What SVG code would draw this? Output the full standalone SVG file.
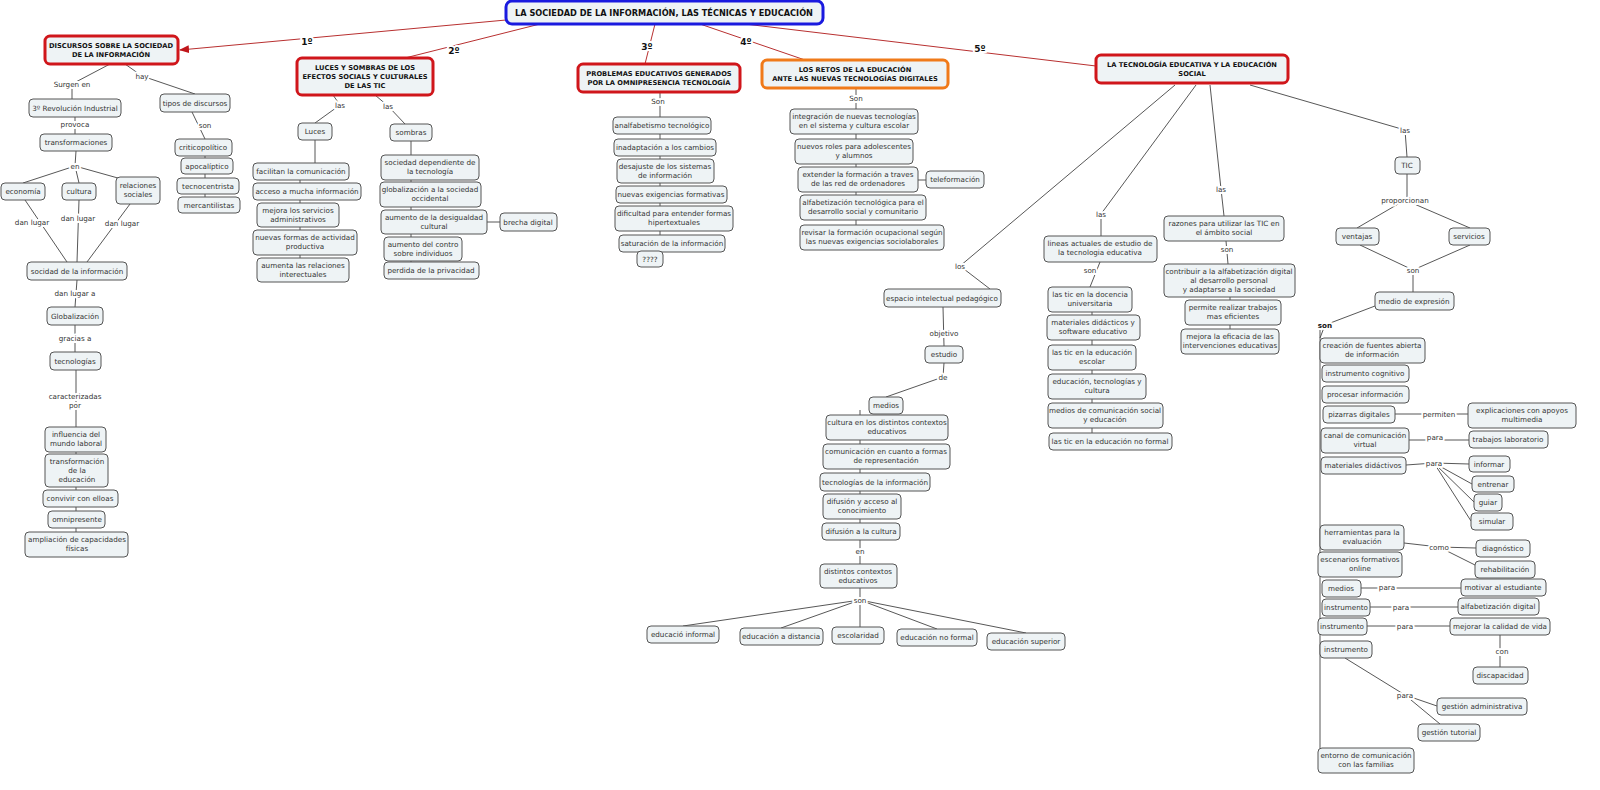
<svg xmlns="http://www.w3.org/2000/svg" width="1600" height="790" viewBox="0 0 1600 790">
<style>
.n rect{fill:#eef3f5;stroke:#555;stroke-width:1}
.n text,.l{font-family:"DejaVu Sans",sans-serif;font-size:7.2px;fill:#333;text-anchor:middle}
.m rect{fill:#eef3f5;stroke:#d0161b;stroke-width:3}
.m text{font-family:"DejaVu Sans",sans-serif;font-size:6.7px;font-weight:bold;fill:#111;text-anchor:middle}
.l{paint-order:stroke;stroke:#fff;stroke-width:4px;stroke-linejoin:round}
.o{font-family:"DejaVu Sans",sans-serif;font-size:9px;font-weight:bold;fill:#111;text-anchor:middle;paint-order:stroke;stroke:#fff;stroke-width:4px}
.c line,.c polyline{stroke:#444;stroke-width:0.9;fill:none}
.r line{stroke:#b83030;stroke-width:1}
</style>
<defs><marker id="ah" markerWidth="10" markerHeight="8" refX="9" refY="4" orient="auto" markerUnits="userSpaceOnUse"><path d="M0,0L10,4L0,8z" fill="#c0161b"/></marker></defs>
<rect width="1600" height="790" fill="#fff"/>
<g class="r">
<line x1="506" y1="20" x2="180" y2="50" marker-end="url(#ah)"/>
<line x1="540" y1="24" x2="405" y2="58"/>
<line x1="655" y1="24" x2="645" y2="64"/>
<line x1="700" y1="24" x2="805" y2="60"/>
<line x1="745" y1="24" x2="1096" y2="66"/>
</g>
<text class="o" x="307" y="45">1º</text><text class="o" x="454" y="54">2º</text><text class="o" x="647" y="50">3º</text><text class="o" x="746" y="45">4º</text><text class="o" x="980" y="52">5º</text>
<g class="c">
<polyline points="110,64 72,84 72,99"/><polyline points="125,64 142,76 195,94"/>
<line x1="75" y1="117" x2="75" y2="134"/><polyline points="76,151 75,166 23,183"/><line x1="75" y1="166" x2="79" y2="183"/><line x1="75" y1="166" x2="125" y2="180"/>
<line x1="25" y1="200" x2="67" y2="262"/><line x1="79" y1="200" x2="77" y2="262"/><line x1="130" y1="204" x2="87" y2="262"/>
<line x1="77" y1="280" x2="75" y2="307"/><line x1="75" y1="325" x2="75" y2="352"/><line x1="76" y1="370" x2="76" y2="532"/>
<line x1="192" y1="112" x2="205" y2="139"/><line x1="205" y1="150" x2="205" y2="200"/>
<polyline points="333,95 340,105 315,123"/><polyline points="375,95 388,106 405,124"/>
<line x1="315" y1="140" x2="315" y2="163"/><line x1="300" y1="170" x2="300" y2="262"/>
<line x1="411" y1="141" x2="411" y2="262"/><line x1="487" y1="222" x2="500" y2="222"/>
<line x1="660" y1="92" x2="660" y2="117"/><line x1="660" y1="130" x2="660" y2="255"/>
<line x1="856" y1="88" x2="856" y2="109"/><line x1="856" y1="120" x2="856" y2="230"/><line x1="918" y1="180" x2="926" y2="180"/>
<polyline points="1175,85 960,266 990,289"/><polyline points="1196,85 1101,214 1101,236"/><polyline points="1210,85 1221,189 1224,216"/><polyline points="1250,85 1405,130 1407,157"/>
<line x1="943" y1="307" x2="944" y2="346"/><polyline points="944,363 943,377 886,397"/>
<line x1="860" y1="410" x2="860" y2="564"/>
<line x1="860" y1="588" x2="860" y2="627"/><line x1="860" y1="600" x2="683" y2="626"/><line x1="860" y1="600" x2="781" y2="628"/><line x1="860" y1="600" x2="937" y2="629"/><line x1="860" y1="600" x2="1026" y2="633"/>
<line x1="1100" y1="262" x2="1090" y2="287"/><line x1="1092" y1="300" x2="1092" y2="440"/>
<line x1="1226" y1="241" x2="1228" y2="264"/><line x1="1230" y1="290" x2="1230" y2="340"/>
<line x1="1407" y1="174" x2="1407" y2="200"/><polyline points="1357,228 1405,200 1470,228"/><polyline points="1360,245 1413,270 1470,245"/><line x1="1413" y1="270" x2="1413" y2="292"/>
<polyline points="1375,306 1325,325 1320,338"/><line x1="1320" y1="330" x2="1320" y2="748"/>
<line x1="1395" y1="414" x2="1468" y2="414"/><line x1="1409" y1="440" x2="1469" y2="440"/>
<polyline points="1406,465 1434,463 1469,464"/><line x1="1434" y1="463" x2="1472" y2="484"/><line x1="1434" y1="463" x2="1474" y2="502"/><line x1="1434" y1="463" x2="1471" y2="521"/>
<polyline points="1404,543 1439,547 1476,548"/><line x1="1439" y1="547" x2="1475" y2="565"/>
<line x1="1361" y1="588" x2="1461" y2="588"/><line x1="1370" y1="607" x2="1458" y2="607"/><line x1="1367" y1="626" x2="1450" y2="626"/>
<line x1="1500" y1="635" x2="1500" y2="667"/>
<polyline points="1345,658 1405,695 1437,706"/><line x1="1405" y1="695" x2="1440" y2="724"/>
</g>
<g class="lbls">
<text class="l" x="72" y="87">Surgen en</text><text class="l" x="142" y="79">hay</text><text class="l" x="75" y="127">provoca</text><text class="l" x="75" y="169">en</text>
<text class="l" x="32" y="225">dan lugar</text><text class="l" x="78" y="221">dan lugar</text><text class="l" x="122" y="226">dan lugar</text>
<text class="l" x="75" y="296">dan lugar a</text><text class="l" x="75" y="341">gracias a</text><text class="l" x="75" y="399">caracterizadas</text><text class="l" x="75" y="408">por</text>
<text class="l" x="205" y="128">son</text><text class="l" x="340" y="108">las</text><text class="l" x="388" y="109">las</text>
<text class="l" x="658" y="104">Son</text><text class="l" x="856" y="101">Son</text>
<text class="l" x="960" y="269">los</text><text class="l" x="1101" y="217">las</text><text class="l" x="1221" y="192">las</text><text class="l" x="1405" y="133">las</text>
<text class="l" x="944" y="336">objetivo</text><text class="l" x="943" y="380">de</text><text class="l" x="860" y="554">en</text><text class="l" x="860" y="603">son</text>
<text class="l" x="1090" y="273">son</text><text class="l" x="1227" y="252">son</text><text class="l" x="1405" y="203">proporcionan</text><text class="l" x="1413" y="273">son</text>
<text class="l" x="1325" y="328" style="font-weight:bold;fill:#111">son</text>
<text class="l" x="1439" y="417">permiten</text><text class="l" x="1435" y="440">para</text><text class="l" x="1434" y="466">para</text><text class="l" x="1439" y="550">como</text>
<text class="l" x="1387" y="590">para</text><text class="l" x="1401" y="610">para</text><text class="l" x="1405" y="629">para</text><text class="l" x="1502" y="654">con</text><text class="l" x="1405" y="698">para</text>
</g>
<g id="root"><rect x="506" y="1" width="317" height="23" rx="6" fill="#eef3f5" stroke="#1a1adf" stroke-width="3"/><text x="664" y="16" font-family="DejaVu Sans,sans-serif" font-size="8.2" font-weight="bold" text-anchor="middle" fill="#111">LA SOCIEDAD DE LA INFORMACIÓN, LAS TÉCNICAS Y EDUCACIÓN</text></g>
<g id="m1" class="m"><rect x="45" y="36" width="133" height="28" rx="5"/><text x="111" y="48">DISCURSOS SOBRE LA SOCIEDAD<tspan x="111" dy="9">DE LA INFORMACIÓN</tspan></text></g>
<g id="m2" class="m"><rect x="297" y="58" width="136" height="37" rx="5"/><text x="365" y="70">LUCES Y SOMBRAS DE LOS<tspan x="365" dy="9">EFECTOS SOCIALS Y CULTURALES</tspan><tspan x="365" dy="9">DE LAS TIC</tspan></text></g>
<g id="m3" class="m"><rect x="578" y="64" width="162" height="28" rx="5"/><text x="659" y="76">PROBLEMAS EDUCATIVOS GENERADOS<tspan x="659" dy="9">POR LA OMNIPRESENCIA TECNOLOGÍA</tspan></text></g>
<g id="m4" class="m"><rect x="762" y="60" width="186" height="28" rx="5" style="stroke:#f07a1a"/><text x="855" y="72">LOS RETOS DE LA EDUCACIÓN<tspan x="855" dy="9">ANTE LAS NUEVAS TECNOLOGÍAS DIGITALES</tspan></text></g>
<g id="m5" class="m"><rect x="1096" y="55" width="192" height="28" rx="5"/><text x="1192" y="67">LA TECNOLOGÍA EDUCATIVA Y LA EDUCACIÓN<tspan x="1192" dy="9">SOCIAL</tspan></text></g>
<g class="n">
<g id="a1"><rect x="29" y="99" width="92" height="18" rx="4"/><text x="75" y="111">3º Revolución Industrial</text></g>
<g id="a2"><rect x="40" y="134" width="72" height="17" rx="4"/><text x="76" y="145">transformaciones</text></g>
<g id="a3"><rect x="1" y="183" width="44" height="17" rx="4"/><text x="23" y="194">economía</text></g>
<g id="a4"><rect x="62" y="183" width="34" height="17" rx="4"/><text x="79" y="194">cultura</text></g>
<g id="a5"><rect x="116" y="177" width="44" height="27" rx="4"/><text x="138" y="188">relaciones<tspan x="138" dy="9">sociales</tspan></text></g>
<g id="a6"><rect x="27" y="262" width="100" height="18" rx="4"/><text x="77" y="274">socidad de la información</text></g>
<g id="a7"><rect x="47" y="307" width="56" height="18" rx="4"/><text x="75" y="319">Globalización</text></g>
<g id="a8"><rect x="50" y="352" width="51" height="18" rx="4"/><text x="75" y="364">tecnologías</text></g>
<g id="a9"><rect x="45" y="427" width="61" height="25" rx="4"/><text x="76" y="437">influencia del<tspan x="76" dy="9">mundo laboral</tspan></text></g>
<g id="a10"><rect x="45" y="454" width="63" height="33" rx="4"/><text x="77" y="464">transformación<tspan x="77" dy="9">de la</tspan><tspan x="77" dy="9">educación</tspan></text></g>
<g id="a11"><rect x="43" y="490" width="75" height="17" rx="4"/><text x="80" y="501">convivir con elloas</text></g>
<g id="a12"><rect x="48" y="511" width="57" height="17" rx="4"/><text x="77" y="522">omnipresente</text></g>
<g id="a13"><rect x="25" y="532" width="103" height="25" rx="4"/><text x="77" y="542">ampliación de capacidades<tspan x="77" dy="9">físicas</tspan></text></g>
<g id="b1"><rect x="160" y="94" width="70" height="18" rx="4"/><text x="195" y="106">tipos de discursos</text></g>
<g id="b2"><rect x="175" y="139" width="57" height="17" rx="4"/><text x="203" y="150">criticopolítico</text></g>
<g id="b3"><rect x="181" y="158" width="52" height="16" rx="4"/><text x="207" y="169">apocalíptico</text></g>
<g id="b4"><rect x="177" y="178" width="62" height="16" rx="4"/><text x="208" y="189">tecnocentrista</text></g>
<g id="b5"><rect x="178" y="197" width="62" height="16" rx="4"/><text x="209" y="208">mercantilistas</text></g>
<g id="c1"><rect x="298" y="123" width="34" height="17" rx="4"/><text x="315" y="134">Luces</text></g>
<g id="c2"><rect x="390" y="124" width="42" height="17" rx="4"/><text x="411" y="135">sombras</text></g>
<g id="c3"><rect x="253" y="163" width="96" height="17" rx="4"/><text x="301" y="174">facilitan la comunicación</text></g>
<g id="c4"><rect x="253" y="183" width="108" height="17" rx="4"/><text x="307" y="194">acceso a mucha información</text></g>
<g id="c5"><rect x="257" y="203" width="82" height="24" rx="4"/><text x="298" y="213">mejora los servicios<tspan x="298" dy="9">administrativos</tspan></text></g>
<g id="c6"><rect x="253" y="230" width="104" height="25" rx="4"/><text x="305" y="240">nuevas formas de actividad<tspan x="305" dy="9">productiva</tspan></text></g>
<g id="c7"><rect x="257" y="258" width="92" height="24" rx="4"/><text x="303" y="268">aumenta las relaciones<tspan x="303" dy="9">interectuales</tspan></text></g>
<g id="c8"><rect x="381" y="155" width="98" height="25" rx="4"/><text x="430" y="165">sociedad dependiente de<tspan x="430" dy="9">la tecnología</tspan></text></g>
<g id="c9"><rect x="380" y="182" width="101" height="25" rx="4"/><text x="430" y="192">globalización a la sociedad<tspan x="430" dy="9">occidental</tspan></text></g>
<g id="c10"><rect x="381" y="210" width="106" height="24" rx="4"/><text x="434" y="220">aumento de la desigualdad<tspan x="434" dy="9">cultural</tspan></text></g>
<g id="c11"><rect x="500" y="213" width="57" height="18" rx="4"/><text x="528" y="225">brecha digital</text></g>
<g id="c12"><rect x="384" y="237" width="78" height="24" rx="4"/><text x="423" y="247">aumento del contro<tspan x="423" dy="9">sobre individuos</tspan></text></g>
<g id="c13"><rect x="384" y="262" width="95" height="17" rx="4"/><text x="431" y="273">perdida de la privacidad</text></g>
<g id="d1"><rect x="613" y="117" width="98" height="17" rx="4"/><text x="662" y="128">analfabetismo tecnológico</text></g>
<g id="d2"><rect x="614" y="139" width="102" height="17" rx="4"/><text x="665" y="150">inadaptación a los cambios</text></g>
<g id="d3"><rect x="617" y="159" width="97" height="24" rx="4"/><text x="665" y="169">desajuste de los sistemas<tspan x="665" dy="9">de información</tspan></text></g>
<g id="d4"><rect x="616" y="186" width="111" height="17" rx="4"/><text x="671" y="197">nuevas exigencias formativas</text></g>
<g id="d5"><rect x="615" y="206" width="118" height="25" rx="4"/><text x="674" y="216">dificultad para entender formas<tspan x="674" dy="9">hipertextuales</tspan></text></g>
<g id="d6"><rect x="619" y="235" width="106" height="17" rx="4"/><text x="672" y="246">saturación de la información</text></g>
<g id="d7"><rect x="637" y="251" width="26" height="16" rx="4"/><text x="650" y="262">????</text></g>
<g id="e1"><rect x="790" y="109" width="128" height="25" rx="4"/><text x="854" y="119">integración de nuevas tecnologías<tspan x="854" dy="9">en el sistema y cultura escolar</tspan></text></g>
<g id="e2"><rect x="795" y="139" width="118" height="25" rx="4"/><text x="854" y="149">nuevos roles para adolescentes<tspan x="854" dy="9">y alumnos</tspan></text></g>
<g id="e3"><rect x="798" y="167" width="120" height="25" rx="4"/><text x="858" y="177">extender la formación a traves<tspan x="858" dy="9">de las red de ordenadores</tspan></text></g>
<g id="e4"><rect x="926" y="171" width="58" height="17" rx="4"/><text x="955" y="182">teleformación</text></g>
<g id="e5"><rect x="800" y="195" width="126" height="25" rx="4"/><text x="863" y="205">alfabetización tecnológica para el<tspan x="863" dy="9">desarrollo social y comunitario</tspan></text></g>
<g id="e6"><rect x="800" y="225" width="144" height="25" rx="4"/><text x="872" y="235">revisar la formación ocupacional según<tspan x="872" dy="9">las nuevas exigencias sociolaborales</tspan></text></g>
<g id="f1"><rect x="884" y="289" width="117" height="18" rx="4"/><text x="942" y="301">espacio intelectual pedagógico</text></g>
<g id="f2"><rect x="925" y="346" width="38" height="17" rx="4"/><text x="944" y="357">estudio</text></g>
<g id="f3"><rect x="869" y="397" width="34" height="17" rx="4"/><text x="886" y="408">medios</text></g>
<g id="f4"><rect x="826" y="415" width="122" height="25" rx="4"/><text x="887" y="425">cultura en los distintos contextos<tspan x="887" dy="9">educativos</tspan></text></g>
<g id="f5"><rect x="823" y="444" width="127" height="25" rx="4"/><text x="886" y="454">comunicación en cuanto a formas<tspan x="886" dy="9">de representación</tspan></text></g>
<g id="f6"><rect x="820" y="473" width="110" height="18" rx="4"/><text x="875" y="485">tecnologías de la información</text></g>
<g id="f7"><rect x="823" y="494" width="78" height="25" rx="4"/><text x="862" y="504">difusión y acceso al<tspan x="862" dy="9">conocimiento</tspan></text></g>
<g id="f8"><rect x="822" y="523" width="78" height="17" rx="4"/><text x="861" y="534">difusión a la cultura</text></g>
<g id="f9"><rect x="820" y="564" width="77" height="24" rx="4"/><text x="858" y="574">distintos contextos<tspan x="858" dy="9">educativos</tspan></text></g>
<g id="f10"><rect x="647" y="626" width="72" height="17" rx="4"/><text x="683" y="637">educació informal</text></g>
<g id="f11"><rect x="740" y="628" width="83" height="17" rx="4"/><text x="781" y="639">educación a distancia</text></g>
<g id="f12"><rect x="832" y="627" width="52" height="17" rx="4"/><text x="858" y="638">escolaridad</text></g>
<g id="f13"><rect x="897" y="629" width="80" height="17" rx="4"/><text x="937" y="640">educación no formal</text></g>
<g id="f14"><rect x="987" y="633" width="78" height="17" rx="4"/><text x="1026" y="644">educación superior</text></g>
<g id="g1"><rect x="1044" y="236" width="113" height="26" rx="4"/><text x="1100" y="246">lineas actuales de estudio de<tspan x="1100" dy="9">la tecnologia educativa</tspan></text></g>
<g id="g2"><rect x="1048" y="287" width="84" height="25" rx="4"/><text x="1090" y="297">las tic en la docencia<tspan x="1090" dy="9">universitaria</tspan></text></g>
<g id="g3"><rect x="1047" y="315" width="93" height="25" rx="4"/><text x="1093" y="325">materiales didácticos y<tspan x="1093" dy="9">software educativo</tspan></text></g>
<g id="g4"><rect x="1048" y="345" width="88" height="25" rx="4"/><text x="1092" y="355">las tic en la educación<tspan x="1092" dy="9">escolar</tspan></text></g>
<g id="g5"><rect x="1048" y="374" width="98" height="25" rx="4"/><text x="1097" y="384">educación, tecnologías y<tspan x="1097" dy="9">cultura</tspan></text></g>
<g id="g6"><rect x="1048" y="403" width="115" height="25" rx="4"/><text x="1105" y="413">medios de comunicación social<tspan x="1105" dy="9">y educación</tspan></text></g>
<g id="g7"><rect x="1049" y="433" width="123" height="17" rx="4"/><text x="1110" y="444">las tic en la educación no formal</text></g>
<g id="h1"><rect x="1164" y="216" width="120" height="25" rx="4"/><text x="1224" y="226">razones para utilizar las TIC en<tspan x="1224" dy="9">el ámbito social</tspan></text></g>
<g id="h2"><rect x="1164" y="264" width="131" height="33" rx="4"/><text x="1229" y="274">contribuir a la alfabetización digital<tspan x="1229" dy="9">al desarrollo personal</tspan><tspan x="1229" dy="9">y adaptarse a la sociedad</tspan></text></g>
<g id="h3"><rect x="1185" y="300" width="96" height="25" rx="4"/><text x="1233" y="310">permite realizar trabajos<tspan x="1233" dy="9">mas eficientes</tspan></text></g>
<g id="h4"><rect x="1181" y="329" width="98" height="25" rx="4"/><text x="1230" y="339">mejora la eficacia de las<tspan x="1230" dy="9">intervenciones educativas</tspan></text></g>
<g id="i1"><rect x="1395" y="157" width="25" height="17" rx="4"/><text x="1407" y="168">TIC</text></g>
<g id="i2"><rect x="1336" y="228" width="43" height="17" rx="4"/><text x="1357" y="239">ventajas</text></g>
<g id="i3"><rect x="1449" y="228" width="41" height="17" rx="4"/><text x="1469" y="239">servicios</text></g>
<g id="i4"><rect x="1375" y="292" width="79" height="18" rx="4"/><text x="1414" y="304">medio de expresión</text></g>
<g id="j1"><rect x="1320" y="338" width="105" height="25" rx="4"/><text x="1372" y="348">creación de fuentes abierta<tspan x="1372" dy="9">de información</tspan></text></g>
<g id="j2"><rect x="1322" y="365" width="87" height="17" rx="4"/><text x="1365" y="376">instrumento cognitivo</text></g>
<g id="j3"><rect x="1322" y="386" width="87" height="17" rx="4"/><text x="1365" y="397">procesar información</text></g>
<g id="j4"><rect x="1323" y="406" width="72" height="17" rx="4"/><text x="1359" y="417">pizarras digitales</text></g>
<g id="j5"><rect x="1468" y="403" width="108" height="25" rx="4"/><text x="1522" y="413">explicaciones con apoyos<tspan x="1522" dy="9">multimedia</tspan></text></g>
<g id="j6"><rect x="1321" y="428" width="88" height="25" rx="4"/><text x="1365" y="438">canal de comunicación<tspan x="1365" dy="9">virtual</tspan></text></g>
<g id="j7"><rect x="1469" y="431" width="79" height="17" rx="4"/><text x="1508" y="442">trabajos laboratorio</text></g>
<g id="j8"><rect x="1321" y="457" width="85" height="17" rx="4"/><text x="1363" y="468">materiales didáctivos</text></g>
<g id="j9"><rect x="1469" y="456" width="41" height="16" rx="4"/><text x="1489" y="467">informar</text></g>
<g id="j10"><rect x="1472" y="476" width="42" height="16" rx="4"/><text x="1493" y="487">entrenar</text></g>
<g id="j11"><rect x="1474" y="494" width="28" height="17" rx="4"/><text x="1488" y="505">guiar</text></g>
<g id="j12"><rect x="1471" y="513" width="42" height="17" rx="4"/><text x="1492" y="524">simular</text></g>
<g id="j13"><rect x="1320" y="525" width="84" height="25" rx="4"/><text x="1362" y="535">herramientas para la<tspan x="1362" dy="9">evaluación</tspan></text></g>
<g id="j14"><rect x="1476" y="540" width="54" height="17" rx="4"/><text x="1503" y="551">diagnóstico</text></g>
<g id="j15"><rect x="1475" y="561" width="60" height="17" rx="4"/><text x="1505" y="572">rehabilitación</text></g>
<g id="j16"><rect x="1318" y="552" width="84" height="25" rx="4"/><text x="1360" y="562">escenarios formativos<tspan x="1360" dy="9">online</tspan></text></g>
<g id="j17"><rect x="1322" y="580" width="39" height="17" rx="4"/><text x="1341" y="591">medios</text></g>
<g id="j18"><rect x="1461" y="579" width="85" height="17" rx="4"/><text x="1503" y="590">motivar al estudiante</text></g>
<g id="j19"><rect x="1322" y="599" width="48" height="17" rx="4"/><text x="1346" y="610">instrumento</text></g>
<g id="j20"><rect x="1458" y="598" width="81" height="17" rx="4"/><text x="1498" y="609">alfabetización digital</text></g>
<g id="j21"><rect x="1318" y="618" width="49" height="17" rx="4"/><text x="1342" y="629">instrumento</text></g>
<g id="j22"><rect x="1450" y="618" width="100" height="17" rx="4"/><text x="1500" y="629">mejorar la calidad de vida</text></g>
<g id="j23"><rect x="1473" y="667" width="55" height="17" rx="4"/><text x="1500" y="678">discapacidad</text></g>
<g id="j24"><rect x="1320" y="641" width="52" height="17" rx="4"/><text x="1346" y="652">instrumento</text></g>
<g id="j25"><rect x="1437" y="698" width="90" height="17" rx="4"/><text x="1482" y="709">gestión administrativa</text></g>
<g id="j26"><rect x="1418" y="724" width="62" height="17" rx="4"/><text x="1449" y="735">gestión tutorial</text></g>
<g id="j27"><rect x="1318" y="748" width="96" height="25" rx="4"/><text x="1366" y="758">entorno de comunicación<tspan x="1366" dy="9">con las familias</tspan></text></g>
</g>
</svg>
